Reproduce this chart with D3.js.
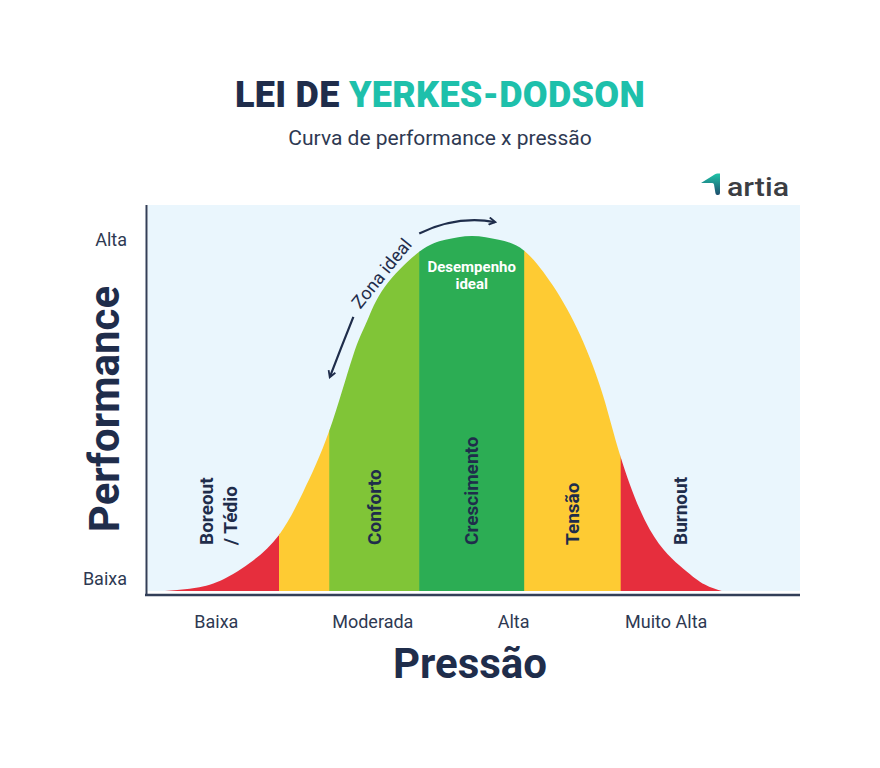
<!DOCTYPE html>
<html><head><meta charset="utf-8">
<script src="https://cdn.jsdelivr.net/npm/d3@7"></script>
<style>
html,body{margin:0;padding:0;background:#fff;}
svg{display:block;font-family:Roboto,"Noto Sans",sans-serif;}
</style></head><body>
<svg id="chart" width="880" height="768"></svg>
<script>
// ---- data ----
const pressure    = [2.6, 6.4, 10.6, 15.6, 20.1, 23.8, 27.8, 31.4, 33.6, 36.3, 41.6, 45.6, 49.7, 53.8, 57.7, 62.1, 66.3, 69.8, 72.5, 77.0, 82.1, 85.4, 88.0];
const performance = [0, 0.6, 2.5, 7.9, 15.8, 27.9, 45.1, 66.0, 76.0, 85.6, 95.5, 98.9, 100, 98.9, 95.8, 86.0, 72.0, 55.0, 37.7, 17.2, 6.3, 1.8, 0];
const zoneNames   = [["Boreout", "/ Tédio"], [], ["Conforto"], ["Crescimento"], ["Tensão"], ["Burnout"]];
const zoneEdges   = [0, 20.1, 27.8, 41.6, 57.7, 72.5, 100];
const zoneColors  = ["#e62e3d", "#fecb33", "#80c537", "#2cad54", "#fecb33", "#e62e3d"];
const xTickValues = [10.4, 34.4, 56.0, 79.4];
const xTickLabels = ["Baixa", "Moderada", "Alta", "Muito Alta"];
const yTickValues = [3.4, 98.9];
const yTickLabels = ["Baixa", "Alta"];
const peakLabel   = ["Desempenho", "ideal"];
const zoneLabel   = "Zona ideal";

// ---- layout ----
const navy = "#1f2d4b", tickCol = "#2e3952", teal = "#1ec0ab";
const svg = d3.select("#chart");
const x = d3.scaleLinear([0, 100], [148, 800]);
const y = d3.scaleLinear([0, 108.7], [591, 205]);
const defs = svg.append("defs");

// title
const title = svg.append("text").attr("x", 440).attr("y", 107).attr("text-anchor", "middle")
  .style("font-size", "36px").style("font-weight", 900).style("letter-spacing", "0.3px");
title.append("tspan").attr("fill", navy).text("LEI DE ");
title.append("tspan").attr("fill", teal).text("YERKES-DODSON");
svg.append("text").attr("x", 440).attr("y", 145).attr("text-anchor", "middle")
  .attr("fill", tickCol).style("font-size", "21px").text("Curva de performance x pressão");

// logo
const grad = defs.append("linearGradient").attr("id", "lg").attr("x1", 0).attr("y1", 0).attr("x2", 0).attr("y2", 1);
grad.append("stop").attr("offset", "0%").attr("stop-color", "#1fc4a8");
grad.append("stop").attr("offset", "100%").attr("stop-color", "#1d4d6c");
svg.append("path").attr("fill", "url(#lg)")
  .attr("d", "M701,183 L715,174.2 Q716,173.5 717.5,173.5 L720,173.5 L720,193 Q720,195 718,195 L717.3,195 Q715.6,195 715.4,193 L714,184.5 Q713.8,183 712.3,183 Z");
svg.append("text").attr("x", 727).attr("y", 195.5).attr("fill", "#3c3e43")
  .attr("textLength", 62).attr("lengthAdjust", "spacingAndGlyphs")
  .style("font-size", "26px").style("font-weight", 500).text("artia");

// plot background
svg.append("rect").attr("x", x(0)).attr("y", y(108.7))
  .attr("width", x(100) - x(0)).attr("height", y(0) - y(108.7)).attr("fill", "#eaf6fd");
defs.append("clipPath").attr("id", "plotclip").append("rect")
  .attr("x", x(0)).attr("y", y(108.7)).attr("width", x(100) - x(0)).attr("height", y(0) - y(108.7));

// curve zones
const pts = pressure.map((p, i) => [p, performance[i]]);
const area = d3.area().x(d => x(d[0])).y0(y(0)).y1(d => y(Math.max(0, d[1]))).curve(d3.curveNatural);
const gz = svg.append("g").attr("clip-path", "url(#plotclip)");
zoneColors.forEach((c, i) => {
  defs.append("clipPath").attr("id", "z" + i).append("rect")
    .attr("x", x(zoneEdges[i])).attr("y", 0)
    .attr("width", x(zoneEdges[i + 1]) - x(zoneEdges[i]) + 0.7).attr("height", 768);
  gz.append("path").datum(pts).attr("d", area).attr("fill", c).attr("clip-path", `url(#z${i})`);
});

// zone labels
const labelDx = [-4, 0, 0, 0, 0, 9];
zoneNames.forEach((lines, i) => {
  if (!lines.length) return;
  const a = Math.max(zoneEdges[i], pressure[0]);
  const b = Math.min(zoneEdges[i + 1], pressure[pressure.length - 1]);
  const cx = x((a + b) / 2) + labelDx[i];
  const t = svg.append("text").attr("transform", `translate(${cx},545) rotate(-90)`)
    .attr("fill", navy).style("font-size", "19px").style("font-weight", 700);
  lines.forEach((l, j) => {
    t.append("tspan").attr("x", 0).attr("y", (j - (lines.length - 1) / 2) * 24 + 6.6).text(l);
  });
});

// peak label
const peakX = x((zoneEdges[3] + zoneEdges[4]) / 2);
peakLabel.forEach((l, j) => {
  svg.append("text").attr("x", peakX).attr("y", y(100) + 36 + j * 17).attr("text-anchor", "middle")
    .attr("fill", "#fff").style("font-size", "15px").style("font-weight", 700).text(l);
});

// zona ideal annotation
defs.append("marker").attr("id", "ah").attr("viewBox", "0 0 10 10").attr("refX", 8).attr("refY", 5)
  .attr("markerWidth", 9).attr("markerHeight", 9).attr("markerUnits", "userSpaceOnUse")
  .attr("orient", "auto-start-reverse")
  .append("path").attr("d", "M1.5,1 L8.5,5 L1.5,9").attr("fill", "none").attr("stroke", navy).attr("stroke-width", 2);
svg.append("path").attr("fill", "none").attr("stroke", navy).attr("stroke-width", 2.2).attr("marker-end", "url(#ah)")
  .attr("d", `M${x(31.5)},${y(77.2)} Q${x(29.6)},${y(68.5)} ${x(27.9)},${y(60.3)}`);
svg.append("path").attr("fill", "none").attr("stroke", navy).attr("stroke-width", 2.2).attr("marker-end", "url(#ah)")
  .attr("d", `M${x(41.6)},${y(100.7)} Q${x(47.4)},${y(105.8)} ${x(53.2)},${y(103.9)}`);
svg.append("text").attr("transform", `translate(${x(35.8)},${y(89.5)}) rotate(-51)`)
  .attr("text-anchor", "middle").attr("dominant-baseline", "central")
  .attr("fill", navy).style("font-size", "18px").text(zoneLabel);

// axes
const xAxis = d3.axisBottom(x).tickValues(xTickValues).tickFormat((d, i) => xTickLabels[i]).tickSize(0).tickPadding(20);
const gx = svg.append("g").attr("transform", `translate(0,${y(0) + 4})`).call(xAxis);
gx.select(".domain").remove();
gx.selectAll("text").attr("fill", tickCol).style("font-size", "18px").style("font-family", "Roboto");

const yAxis = d3.axisLeft(y).tickValues(yTickValues).tickFormat((d, i) => yTickLabels[i]).tickSize(0).tickPadding(19);
const gy = svg.append("g").attr("transform", `translate(146,0)`).call(yAxis);
gy.select(".domain").remove();
gy.selectAll("text").attr("fill", tickCol).style("font-size", "18px").style("font-family", "Roboto");

svg.append("line").attr("x1", x(0) - 3).attr("x2", x(100)).attr("y1", y(0) + 4).attr("y2", y(0) + 4)
  .attr("stroke", "#333f58").attr("stroke-width", 2.6);
svg.append("line").attr("x1", 146.5).attr("x2", 146.5).attr("y1", y(108.7)).attr("y2", y(0) + 5)
  .attr("stroke", "#333f58").attr("stroke-width", 2);

// axis titles
svg.append("text").attr("transform", `translate(119,409) rotate(-90)`).attr("text-anchor", "middle")
  .attr("fill", navy).style("font-size", "42px").style("font-weight", 700).text("Performance");
svg.append("text").attr("x", 470).attr("y", 678).attr("text-anchor", "middle")
  .attr("fill", navy).style("font-size", "42px").style("font-weight", 700).text("Pressão");
</script>
</body></html>
